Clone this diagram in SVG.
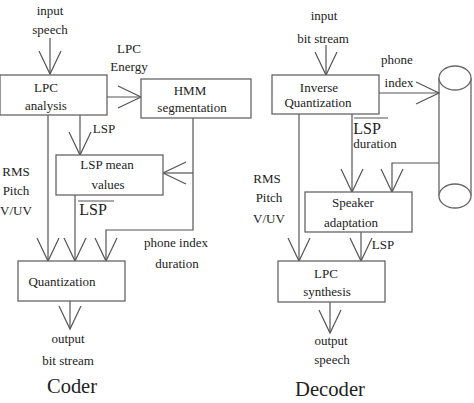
<svg xmlns="http://www.w3.org/2000/svg" width="474" height="403" viewBox="0 0 474 403" font-family="'Liberation Serif', 'DejaVu Serif', serif">
<defs>
<marker id="v" viewBox="-24 -12 26 24" markerWidth="26" markerHeight="24" refX="0" refY="0" orient="auto" markerUnits="userSpaceOnUse">
<path d="M-23,-11 L0,0 L-23,11" fill="none" stroke="#555" stroke-width="1.2"/>
</marker>
</defs>
<style>
.box{fill:#fff;stroke:#666;stroke-width:1.3}
.ln{fill:none;stroke:#555;stroke-width:1.2}
.arr{fill:none;stroke:#555;stroke-width:1.2;marker-end:url(#v)}
text{font-family:'Liberation Serif','DejaVu Serif',serif;font-size:13px;fill:#222;text-anchor:middle}
.big{font-size:22px}
.ol{font-size:16px}
</style>
<rect width="474" height="403" fill="#fff"/>

<g id="connectors">
<path class="arr" d="M50,38 L50,74"/>
<path class="arr" d="M107,97 L141,97"/>
<path class="arr" d="M48,115 L48,261"/>
<path class="arr" d="M80,115 L80,155"/>
<path class="arr" d="M193,118 L193,230 L106,230 L106,261"/>
<path class="arr" d="M193,173 L163,173"/>
<path class="arr" d="M75,195 L75,261"/>
<path class="arr" d="M70,301 L70,329"/>
<path class="arr" d="M326,45 L326,75"/>
<path class="arr" d="M379,93 L439,93"/>
<path class="arr" d="M299,114 L299,261"/>
<path class="arr" d="M352,114 L352,192"/>
<path class="arr" d="M439,163 L392,163 L392,192"/>
<path class="arr" d="M361,232 L361,261"/>
<path class="arr" d="M330,302 L330,333"/>
</g>

<g id="coder-labels">
<text x="50" y="15">input</text>
<text x="50" y="34">speech</text>
<text x="129" y="53">LPC</text>
<text x="129" y="71">Energy</text>
<text x="104" y="133">LSP</text>
<text x="16" y="176">RMS</text>
<text x="16" y="195">Pitch</text>
<text x="16" y="215">V/UV</text>
<text class="ol" x="93" y="215">LSP</text>
<line class="ln" x1="78" y1="201" x2="114" y2="201"/>
<text x="176" y="247">phone index</text>
<text x="177" y="268">duration</text>
<text x="68" y="343">output</text>
<text x="68" y="365">bit stream</text>
<text class="big" x="72" y="393" textLength="50" lengthAdjust="spacingAndGlyphs">Coder</text>
</g>

<g id="lpc-analysis">
<rect class="box" x="0" y="75" width="107" height="40"/>
<text x="46" y="92">LPC</text>
<text x="46" y="110">analysis</text>
</g>

<g id="hmm-segmentation">
<rect class="box" x="141" y="79" width="110" height="39"/>
<text x="190" y="95">HMM</text>
<text x="192" y="112">segmentation</text>
</g>

<g id="lsp-mean-values">
<rect class="box" x="56" y="155" width="107" height="40"/>
<text x="107" y="169">LSP mean</text>
<text x="108" y="189">values</text>
</g>

<g id="quantization">
<rect class="box" x="18" y="261" width="107" height="40"/>
<text x="62" y="286">Quantization</text>
</g>

<g id="decoder-labels">
<text x="324" y="20">input</text>
<text x="323" y="43">bit stream</text>
<text x="397" y="64">phone</text>
<text x="399" y="87">index</text>
<text class="ol" x="367" y="134">LSP</text>
<line class="ln" x1="354" y1="118" x2="388" y2="118"/>
<text x="375" y="148">duration</text>
<text x="267" y="183">RMS</text>
<text x="269" y="202">Pitch</text>
<text x="269" y="223">V/UV</text>
<text x="383" y="249">LSP</text>
<text x="331" y="345">output</text>
<text x="332" y="364">speech</text>
<text class="big" x="330" y="396" textLength="70" lengthAdjust="spacingAndGlyphs">Decoder</text>
</g>

<g id="inverse-quantization">
<rect class="box" x="272" y="75" width="107" height="39"/>
<text x="319" y="92">Inverse</text>
<text x="318" y="107">Quantization</text>
</g>

<g id="database">
<path class="box" d="M439,78 L439,196 M471,78 L471,196"/>
<ellipse class="box" cx="455" cy="78" rx="16" ry="12"/>
<ellipse class="box" cx="455" cy="196" rx="16" ry="12"/>
</g>

<g id="speaker-adaptation">
<rect class="box" x="305" y="192" width="107" height="40"/>
<text x="353" y="207">Speaker</text>
<text x="351" y="227">adaptation</text>
</g>

<g id="lpc-synthesis">
<rect class="box" x="278" y="261" width="107" height="41"/>
<text x="326" y="278">LPC</text>
<text x="327" y="296">synthesis</text>
</g>
</svg>
